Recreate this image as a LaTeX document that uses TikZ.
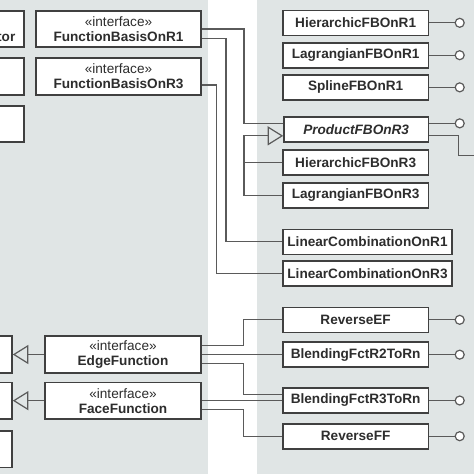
\documentclass[tikz,border=0pt]{standalone}
\usepackage{fontspec}
\setmainfont{Liberation Sans}
\usetikzlibrary{arrows.meta}
\definecolor{panel}{RGB}{224,229,229}
\definecolor{edgec}{RGB}{64,64,64}
\definecolor{wirec}{RGB}{90,90,90}
\definecolor{ink}{RGB}{45,45,45}
\begin{document}
\begin{tikzpicture}[x=1pt,y=-1pt,
 box/.style={draw=edgec, line width=1.6pt, fill=white, inner sep=0pt, text=ink,
   font=\fontsize{13.6}{15}\selectfont\bfseries, align=center},
 rbox/.style={box, minimum width=145.3pt, minimum height=25pt},
 wire/.style={draw=wirec, line width=1.2pt},
 inh/.style={wire, -{Triangle[open, length=15.5pt, width=19pt, line width=1.2pt]}},
 lolli/.style={circle, draw=wirec, line width=1.2pt, fill=white, minimum size=9pt, inner sep=0pt},
]
\useasboundingbox (0,0) rectangle (474,474);
\clip (0,0) rectangle (474,474);
\fill[panel] (0,0) rectangle (207.5,474);
\fill[panel] (256.7,0) rectangle (474,474);

% left panel
\node[box, minimum width=34pt, minimum height=36pt] (L1) at (7,29) {};
\node[anchor=base east, inner sep=0pt, text=ink, font=\fontsize{13.6}{15}\selectfont\bfseries] (tor) at (15.5,41.5) {tor};
\node[box, minimum width=34pt, minimum height=37pt] (L2) at (7,76.5) {};
\node[box, minimum width=34pt, minimum height=36pt] (L3) at (7,124) {};
\node[box, minimum width=165pt, minimum height=36pt] (FB1) at (118.5,29) {\textmd{«interface»}\\FunctionBasisOnR1};
\node[box, minimum width=165pt, minimum height=37pt] (FB3) at (118.5,76.5) {\textmd{«interface»}\\FunctionBasisOnR3};
\node[box, minimum width=22pt, minimum height=37pt] (LB1) at (1,354.5) {};
\node[box, minimum width=22pt, minimum height=36.7pt] (LB2) at (1,400.65) {};
\node[box, minimum width=22pt, minimum height=36.6pt] (LB3) at (1,449) {};
\node[box, minimum width=156pt, minimum height=37pt] (EF) at (123,354.5) {\textmd{«interface»}\\EdgeFunction};
\node[box, minimum width=156pt, minimum height=36.7pt] (FF) at (123,400.65) {\textmd{«interface»}\\FaceFunction};

% right panel
\node[rbox] (HR1) at (355.65,22.8) {HierarchicFBOnR1};
\node[rbox] (LR1) at (355.65,55.2) {LagrangianFBOnR1};
\node[rbox] (SR1) at (355.65,87.35) {SplineFBOnR1};
\node[rbox, minimum width=144.3pt] (PR3) at (356.15,129.35) {\textit{ProductFBOnR3}};
\node[rbox] (HR3) at (355.65,162.35) {HierarchicFBOnR3};
\node[rbox] (LgR3) at (355.65,195.5) {LagrangianFBOnR3};
\node[rbox, minimum width=169pt] (LC1) at (367.5,241.8) {LinearCombinationOnR1};
\node[rbox, minimum width=169pt] (LC3) at (367.5,273.35) {LinearCombinationOnR3};
\node[rbox] (REF) at (355.65,319.8) {ReverseEF};
\node[rbox] (B2) at (355.65,354.65) {BlendingFctR2ToRn};
\node[rbox] (B3) at (355.65,400.5) {BlendingFctR3ToRn};
\node[rbox] (RFF) at (355.65,436.2) {ReverseFF};

% lollipops
\node[lolli] (c1) at (459.7,22.8) {};
\node[lolli] (c2) at (459.7,55.2) {};
\node[lolli] (c3) at (459.7,87.35) {};
\node[lolli] (c4) at (459.7,123.35) {};
\node[lolli] (c5) at (459.7,319.8) {};
\node[lolli] (c6) at (459.7,354.65) {};
\node[lolli] (c7) at (459.7,400.5) {};
\node[lolli] (c8) at (459.7,436.2) {};
\draw[wire] (HR1.east) -- (c1);
\draw[wire] (LR1.east) -- (c2);
\draw[wire] (SR1.east) -- (c3);
\draw[wire] ([yshift=6pt]PR3.east) -- (c4);
\draw[wire] (REF.east) -- (c5);
\draw[wire] (B2.east) -- (c6);
\draw[wire] (B3.east) -- (c7);
\draw[wire] (RFF.east) -- (c8);

\coordinate (out) at (480,155.7);
\coordinate (k1) at (458.3,155.7);
\draw[wire] ([yshift=-6.5pt]PR3.east) -| (k1) -- (out);

% connectors
\coordinate (j1) at (244,123.35);
\draw[wire] (FB1.east) -| (j1) -- ([yshift=6pt]PR3.west);
\draw[wire] ([yshift=-9.3pt]FB1.east) -| ([xshift=-56.3pt]LC1.west) -- (LC1.west);
\draw[wire] ([yshift=-8.5pt]FB3.east) -| ([xshift=-65.7pt]LC3.west) -- (LC3.west);

\coordinate (j2) at (244,135.85);
\draw[wire] (HR3.west) -- (HR3.west -| j2);
\draw[inh] (LgR3.west) -| (j2) -- ([yshift=-6.5pt]PR3.west);

\draw[wire] ([yshift=9.2pt]EF.east) -| ([xshift=-39pt]REF.west) -- (REF.west);
\draw[wire] (EF.east) -- (EF.east -| B2.west);
\draw[wire] ([yshift=-9.2pt]EF.east) -| ([xshift=-39pt,yshift=6.2pt]B3.west) -- ([yshift=6.2pt]B3.west);
\draw[wire] (FF.east) -- (FF.east -| B3.west);
\draw[wire] ([yshift=-9pt]FF.east) -| ([xshift=-39pt]RFF.west) -- (RFF.west);

\draw[inh] (EF.west) -- (LB1.east);
\draw[inh] (FF.west) -- (LB2.east);
\end{tikzpicture}
\end{document}
